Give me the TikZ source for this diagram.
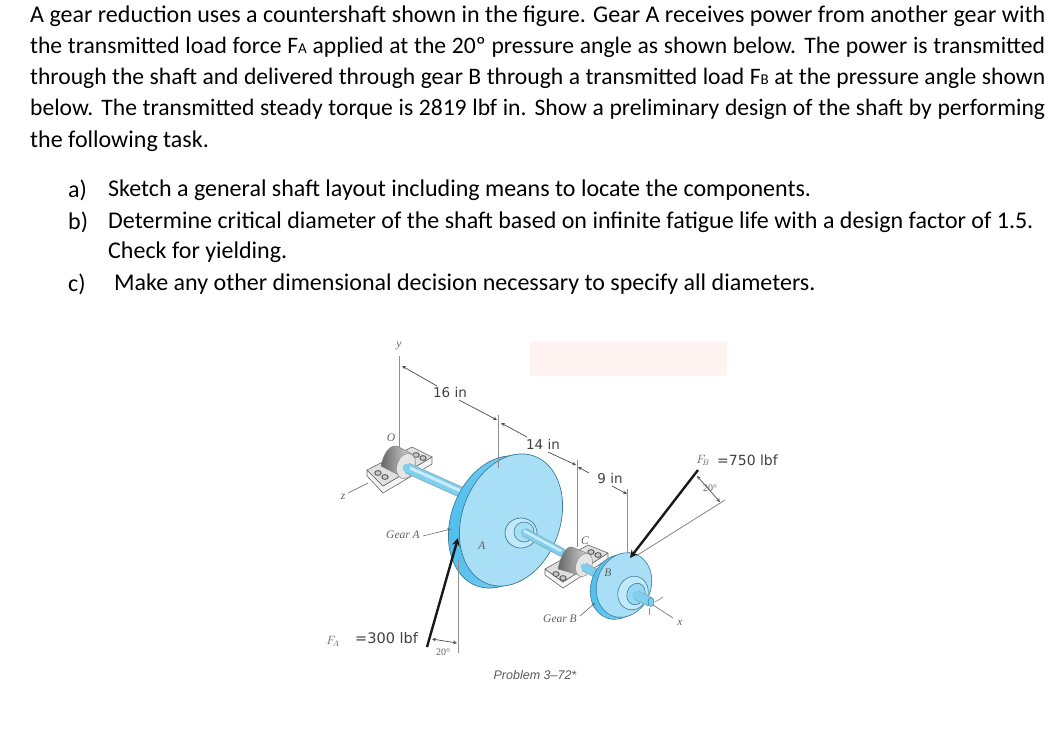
\documentclass[tikz,border=0pt]{standalone}
\usepackage{fontspec}
\usetikzlibrary{calc}
\setmainfont{Carlito}
\newfontfamily\dimfont{DejaVu Sans}
\newfontfamily\probfont{Liberation Sans}
\newfontfamily\figfont{Liberation Serif}
\definecolor{facecol}{HTML}{A8DFF7}
\definecolor{rimcol}{HTML}{4FBDEC}
\definecolor{edgecol}{HTML}{3C7D9C}
\definecolor{shaftcol}{HTML}{7FD0EE}
\definecolor{axiscol}{HTML}{8E8E8E}
\definecolor{labcol}{HTML}{5F5F5F}
\definecolor{pinkcol}{HTML}{FFF3F2}
\newcommand{\fullline}[1]{\makebox[1015pt][s]{#1}}
\tikzset{
  textline/.style={anchor=west,inner sep=0pt,font=\fontsize{24}{28}\selectfont},
  tightline/.style={anchor=west,inner sep=0pt,font=\fontsize{23.6}{28}\selectfont},
  dimlabel/.style={inner sep=0pt,font=\dimfont\fontsize{13.5}{15}\selectfont,text=black!75},
  figlabel/.style={inner sep=0pt,text=labcol,font=\figfont\itshape\fontsize{11.5}{13}\selectfont},
  anglabel/.style={inner sep=0pt,text=labcol,font=\figfont\fontsize{10}{12}\selectfont},
  axisline/.style={draw=axiscol,line width=0.9pt},
  leaderline/.style={draw=black!60,line width=0.6pt,-stealth},
  dimline/.style={draw=black!70,line width=0.7pt,-stealth},
  forceline/.style={draw=black!90,line width=2.4pt,-stealth},
  shaftline/.style={line width=#1,draw=shaftcol,line cap=round},
  shaftedge/.style={line width=#1,draw=edgecol!60},
  shaftlight/.style={line width=#1,draw=facecol!60!white},
  basetop/.style={fill=black!12,draw=black!60,line width=0.6pt,line join=round},
  baseside/.style={fill=black!4,draw=black!60,line width=0.6pt,line join=round},
  blockcap/.style={left color=black!60,right color=black!12,draw=black!50,line width=0.5pt},
  blockface/.style={fill=black!10,draw=black!45,line width=0.5pt},
  boltmark/.style={draw=black!70,line width=0.8pt,fill=black!22},
}
\begin{document}
\begin{tikzpicture}[x=1pt,y=-1pt]
\useasboundingbox (0,0) rectangle (1054,733);
% problem text
\node[textline] (lineone) at (30,16) {\fullline{A gear reduction uses a countershaft shown in the figure. Gear A receives power from another gear with}};
\node[tightline] (linetwo) at (30,47) {\fullline{the transmitted load force F{\fontsize{15}{15}\selectfont A} applied at the 20º pressure angle as shown below. The power is transmitted}};
\node[tightline] (linethree) at (30,78) {\fullline{through the shaft and delivered through gear B through a transmitted load F{\fontsize{15}{15}\selectfont B} at the pressure angle shown}};
\node[tightline] (linefour) at (30,109) {\fullline{below. The transmitted steady torque is 2819 lbf in. Show a preliminary design of the shaft by performing}};
\node[textline] (linefive) at (30,141) {the following task.};
\node[textline] (itema) at (68,190) {a)};
\node[textline] (itemat) at (108,190) {Sketch a general shaft layout including means to locate the components.};
\node[textline] (itemb) at (68,222) {b)};
\node[textline] (itembt) at (108,222) {Determine critical diameter of the shaft based on infinite fatigue life with a design factor of 1.5.};
\node[textline] (itembu) at (108,252) {Check for yielding.};
\node[textline] (itemc) at (68,284) {c)};
\node[textline] (itemct) at (114,284) {Make any other dimensional decision necessary to specify all diameters.};
\fill[pinkcol] (530,342) rectangle (727,376);
% points of the figure
\coordinate (Ytop) at (399,356);
\coordinate (Ybot) at (399,447);
\coordinate (Zend) at (348,493);
\coordinate (Zin) at (368,483);
\coordinate (Agear) at (498,415);
\coordinate (Agearb) at (498,468);
\coordinate (Cup) at (577,460);
\coordinate (Cdown) at (577,547);
\coordinate (Bup) at (627,489);
\coordinate (Bdown) at (627,556);
\coordinate (FAtail) at (427,647);
\coordinate (FAhead) at (458,538);
\coordinate (FAup) at (458,560);
\coordinate (FAdown) at (458,653);
\coordinate (FBtail) at (698,470);
\coordinate (FBhead) at (630,558);
\coordinate (FBref) at (725,500);
\coordinate (FBrefin) at (636,556);
\coordinate (Xin) at (653,605);
\coordinate (Xend) at (673,618);
% axes
\draw[axisline] (Ytop) -- (Ybot);
\draw[axisline] (Zend) -- (Zin);
\draw[axisline] (Cup) -- (Cdown);
\draw[axisline] (Bup) -- (Bdown);
% bearing O
\draw[baseside] (367,470) -- (367,476) -- (383,493) -- (432,464) -- (432,457) -- (383,486) -- cycle;
\draw[basetop] (367,470) -- (383,486) -- (432,457) -- (412,447) -- cycle;
\draw[boltmark] (378,473) ellipse (3.2 and 2.4);
\draw[boltmark] (385,477) ellipse (3.2 and 2.4);
\draw[boltmark] (416,455) ellipse (3.2 and 2.4);
\draw[boltmark] (423,458) ellipse (3.2 and 2.4);
\draw[blockcap] (381,466) .. controls (384,452) and (390,445) .. (397,446) -- (414,455) -- (405,478) -- cycle;
\draw[blockface,shift={(406,466)},rotate=-20] (0,0) ellipse (9 and 13);
\draw[shaftedge=11pt] (407,468) -- (465,494);
\draw[shaftline=9pt] (407,468) -- (465,494);
\draw[shaftlight=3pt] (410,468) -- (463,492);
% gear A
\foreach \t in {0,0.1,...,1.01} {
  \shade[left color=rimcol,right color=facecol,shift={($(500,522)!\t!(511,520)$)},rotate=-20] (0,0) ellipse (49 and 68);
}
\draw[edgecol,line width=0.7pt,shift={(500,522)},rotate=-20] (0,0) ellipse (49 and 68);
\fill[facecol,shift={(511,520)},rotate=-20] (0,0) ellipse (49 and 68);
\draw[edgecol,line width=0.7pt,shift={(511,520)},rotate=-20] (0,0) ellipse (49 and 68);
\draw[axisline] (Agear) -- (Agearb);
\draw[edgecol,line width=0.7pt,fill=facecol!70!white] (521,533) ellipse (16 and 15);
\draw[edgecol,line width=0.6pt,fill=facecol] (524,532) ellipse (10 and 10);
\draw[shaftedge=9pt] (524,532) -- (563,553);
\draw[shaftline=7pt] (524,532) -- (563,553);
\draw[shaftlight=2.5pt] (524,531) -- (561,551);
% bearing C
\draw[baseside] (545,569) -- (545,575) -- (563,588) -- (608,559) -- (608,553) -- (563,582) -- cycle;
\draw[basetop] (545,569) -- (563,582) -- (608,553) -- (588,545) -- cycle;
\draw[boltmark] (556,574) ellipse (3.2 and 2.4);
\draw[boltmark] (563,578) ellipse (3.2 and 2.4);
\draw[boltmark] (591,552) ellipse (3.2 and 2.4);
\draw[boltmark] (598,555) ellipse (3.2 and 2.4);
\draw[blockcap] (558,569) .. controls (561,555) and (566,546) .. (572,547) -- (591,555) -- (583,576) -- cycle;
\draw[blockface,shift={(584,565)},rotate=-20] (0,0) ellipse (8 and 12);
\draw[shaftedge=9pt] (584,567) -- (601,576);
\draw[shaftline=7pt] (584,567) -- (601,576);
% gear B
\foreach \t in {0,0.1,...,1.01} {
  \shade[left color=rimcol,right color=facecol,shift={($(618,587)!\t!(624,585)$)},rotate=-20] (0,0) ellipse (27 and 33);
}
\draw[edgecol,line width=0.6pt,shift={(618,587)},rotate=-20] (0,0) ellipse (27 and 33);
\fill[facecol,shift={(624,585)},rotate=-20] (0,0) ellipse (27 and 33);
\draw[edgecol,line width=0.6pt,shift={(624,585)},rotate=-20] (0,0) ellipse (27 and 33);
\draw[edgecol,line width=0.6pt,fill=facecol!70!white,shift={(633,593)},rotate=-20] (0,0) ellipse (15 and 17);
\draw[edgecol,line width=0.6pt,fill=rimcol!60!white,shift={(636,594)},rotate=-20] (0,0) ellipse (9 and 11);
\draw[shaftedge=10pt] (636,595) -- (650,602);
\draw[shaftline=8pt] (636,595) -- (650,602);
\draw[edgecol,line width=0.5pt,fill=shaftcol] (651,602) ellipse (3 and 4.5);
\draw[axisline] (Xin) -- (Xend);
\coordinate (Tka) at (655,602);
\coordinate (Tkb) at (663,597);
\coordinate (Tkc) at (649,608);
\coordinate (Tkd) at (649,615);
\draw[axisline,line width=0.7pt] (Tka) -- (Tkb);
\draw[axisline,line width=0.7pt] (Tkc) -- (Tkd);
% dimensions
\coordinate (Dza) at (402,366);
\coordinate (Dzb) at (437,386);
\coordinate (Dzc) at (459,400);
\coordinate (Dzd) at (497,420);
\coordinate (Dya) at (501,423);
\coordinate (Dyb) at (527,437);
\coordinate (Dyc) at (548,452);
\coordinate (Dyd) at (576,465);
\coordinate (Dxa) at (589,473);
\coordinate (Dxb) at (578,467);
\coordinate (Dxc) at (612,486);
\coordinate (Dxd) at (627,494);
\draw[dimline] (Dzb) -- (Dza);
\draw[dimline] (Dzc) -- (Dzd);
\draw[dimline] (Dyb) -- (Dya);
\draw[dimline] (Dyc) -- (Dyd);
\draw[dimline] (Dxa) -- (Dxb);
\draw[dimline] (Dxc) -- (Dxd);
\node[dimlabel] (labsixteen) at (450,392) {16 in};
\node[dimlabel] (labfourteen) at (543,444) {14 in};
\node[dimlabel] (labnine) at (610,478) {9 in};
% forces
\draw[axisline] (FAup) -- (FAdown);
\draw[forceline] (FAtail) -- (FAhead);
\draw[forceline] (FBtail) -- (FBhead);
\draw[axisline] (FBrefin) -- (FBref);
\coordinate (Aanga) at (432,639);
\coordinate (Aangb) at (457,643);
\coordinate (Banga) at (697,476);
\coordinate (Bangb) at (720,502);
\draw[dimline,stealth-stealth] (Aanga) -- (Aangb);
\draw[dimline,stealth-stealth] (Banga) -- (Bangb);
\node[anglabel] (labanga) at (443,652) {20°};
\node[anglabel] (labangb) at (710,488) {20°};
\node[figlabel] (labfa) at (333,641) {$F_{\!A}$};
\node[dimlabel,anchor=west,font=\dimfont\fontsize{14.5}{16}\selectfont] (labfav) at (355,638) {=300 lbf};
\node[figlabel] (labfb) at (703,460) {$F_{\!B}$};
\node[dimlabel,anchor=west,font=\dimfont\fontsize{14}{16}\selectfont] (labfbv) at (717,460) {=750 lbf};
% figure labels
\node[figlabel] (laby) at (399,346) {y};
\node[figlabel] (labz) at (343,497) {z};
\node[figlabel] (labx) at (680,623) {x};
\node[figlabel] (labo) at (391,438) {O};
\node[figlabel] (labc) at (585,541) {C};
\node[figlabel] (labb) at (608,573) {B};
\node[figlabel] (laba) at (482,546) {A};
\node[figlabel] (gearalab) at (403,535) {Gear A};
\node[figlabel] (gearblab) at (560,619) {Gear B};
\node[figlabel,text=black!65,font=\probfont\itshape\fontsize{12.5}{14}\selectfont] (problab) at (535,675) {Problem 3–72*};
\coordinate (Gatip) at (451,529);
\coordinate (Gbtip) at (595,603);
\draw[leaderline] (gearalab.east) ++(3,1) coordinate (Gaa) -- (Gatip);
\draw[leaderline] (gearblab.east) ++(3,-3) coordinate (Gba) -- (Gbtip);
\end{tikzpicture}
\end{document}
